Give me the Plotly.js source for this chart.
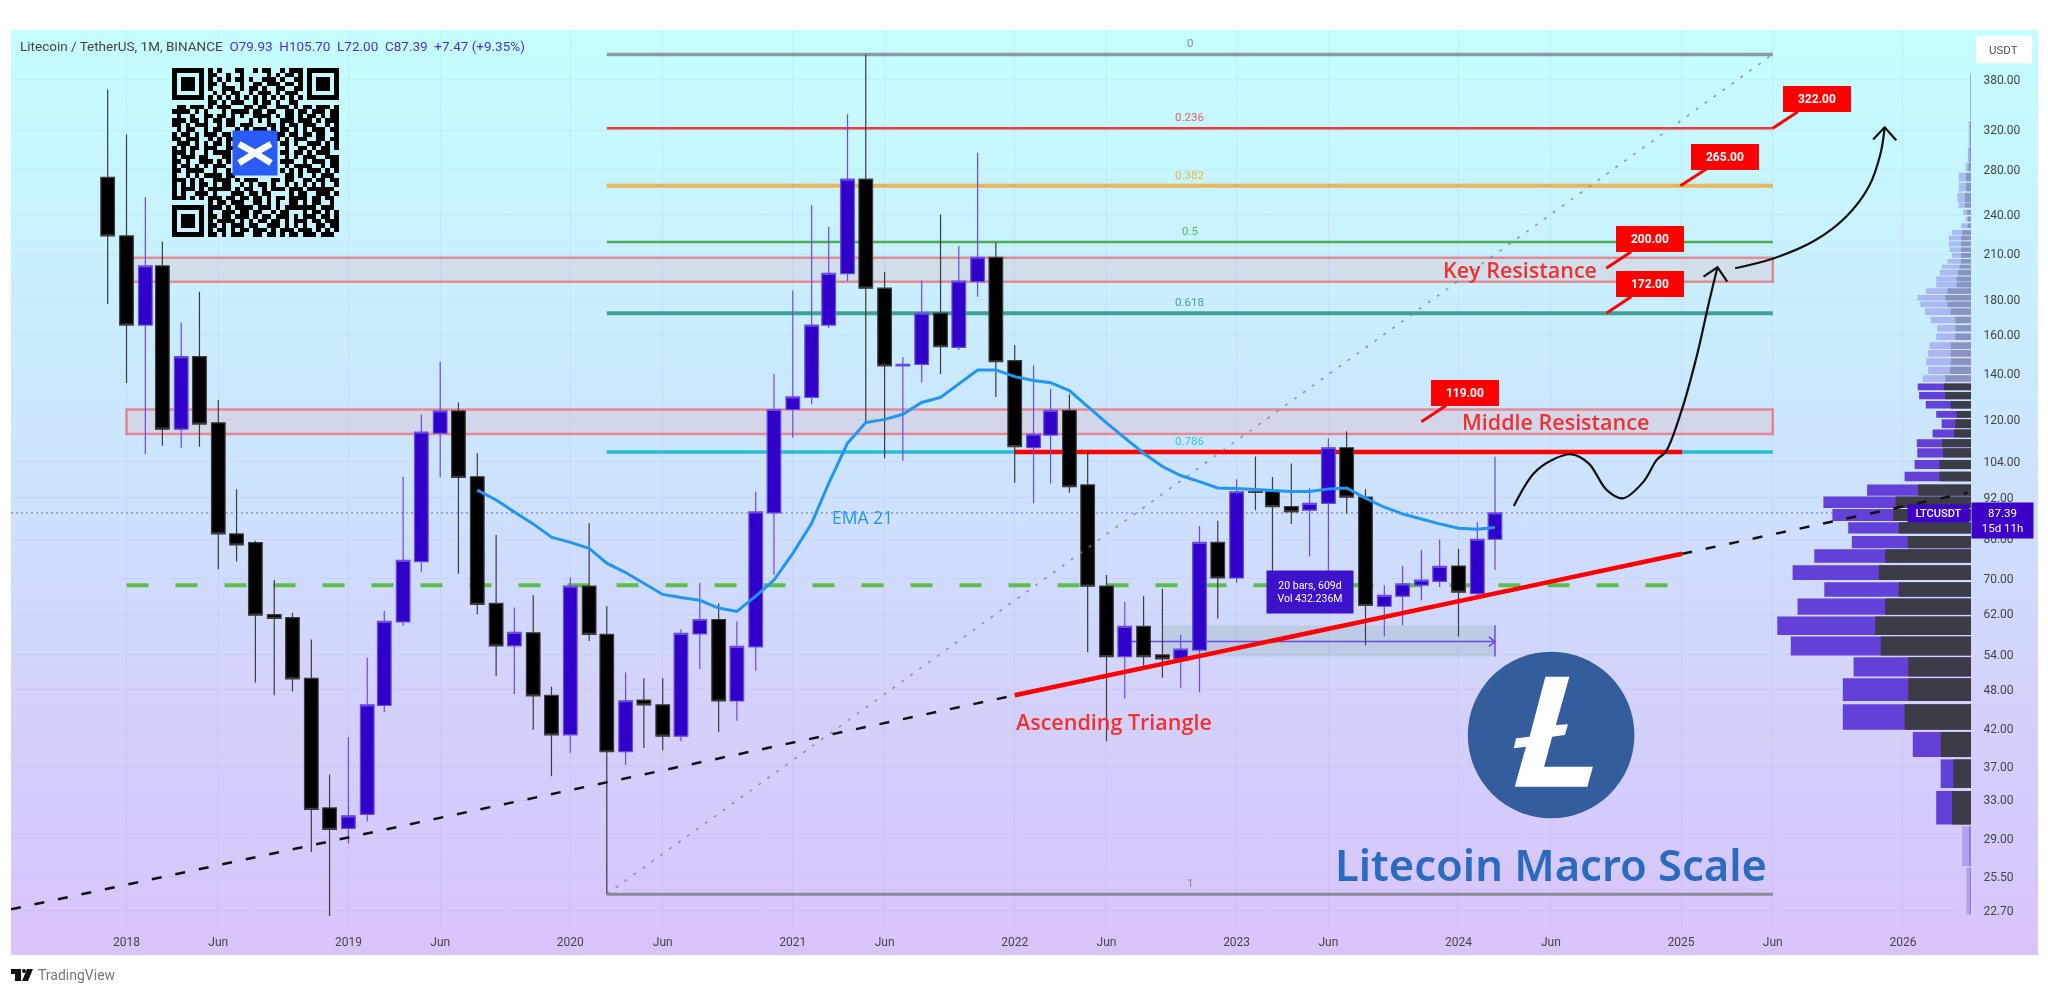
<!DOCTYPE html>
<html><head><meta charset="utf-8">
<script src="https://cdn.plot.ly/plotly-3.0.1.min.js"></script>
<style>
html,body{margin:0;padding:0;background:#fff;width:2048px;height:994px;overflow:hidden}
#bg{position:absolute;left:11px;top:30px;width:2027px;height:925px;background:linear-gradient(180deg,#c4ffff 0%,#c8f2ff 22%,#cde2fd 50%,#d3d2fc 72%,#d9c3fb 100%)}
#chart{position:absolute;left:0;top:0;width:2048px;height:994px;filter:blur(0.6px)}
</style></head><body><div id="bg"></div><div id="chart"></div>
<script>
const months=['2017-12-01',
'2018-01-01','2018-02-01','2018-03-01','2018-04-01','2018-05-01','2018-06-01','2018-07-01','2018-08-01','2018-09-01','2018-10-01','2018-11-01','2018-12-01',
'2019-01-01','2019-02-01','2019-03-01','2019-04-01','2019-05-01','2019-06-01','2019-07-01','2019-08-01','2019-09-01','2019-10-01','2019-11-01','2019-12-01',
'2020-01-01','2020-02-01','2020-03-01','2020-04-01','2020-05-01','2020-06-01','2020-07-01','2020-08-01','2020-09-01','2020-10-01','2020-11-01','2020-12-01',
'2021-01-01','2021-02-01','2021-03-01','2021-04-01','2021-05-01','2021-06-01','2021-07-01','2021-08-01','2021-09-01','2021-10-01','2021-11-01','2021-12-01',
'2022-01-01','2022-02-01','2022-03-01','2022-04-01','2022-05-01','2022-06-01','2022-07-01','2022-08-01','2022-09-01','2022-10-01','2022-11-01','2022-12-01',
'2023-01-01','2023-02-01','2023-03-01','2023-04-01','2023-05-01','2023-06-01','2023-07-01','2023-08-01','2023-09-01','2023-10-01','2023-11-01','2023-12-01',
'2024-01-01','2024-02-01','2024-03-01'];
const open=[272.5,
223.5,165.2,201.9,116.1,148.4,118.6,81.4,79.0,61.9,61.3,49.9,32.15,
30.0,31.45,45.5,60.4,74.1,114.5,123.5,98.8,64.3,55.7,58.2,47.1,
41.2,68.2,57.9,38.9,46.35,45.6,41.0,58.0,60.9,46.2,55.5,87.4,
124.1,129.3,165.2,196.6,270.9,187.2,143.9,144.6,172.0,153.2,191.4,207.9,
146.4,109,113.8,123.7,96.1,68.2,53.7,59.5,54.0,53.3,54.9,79.1,
70.1,93.9,93.9,89.3,88.2,90.3,109,92.2,63.7,65.9,68.4,69.3,
73,66.5,79.93];
const close=[223.5,
165.2,201.9,116.1,148.4,118.1,81.4,78.4,61.8,61.1,49.8,32.0,29.9,
31.3,45.6,60.5,74.4,114.9,123.5,98.6,64.1,55.7,58.3,47.0,41.2,
68.2,57.9,38.9,46.24,45.6,41.0,58.1,60.9,46.2,55.6,87.7,124.1,
129.5,165.2,196.9,270.9,187.2,143.9,144.6,172.0,153.5,191.8,207.9,145.9,
109.4,114.1,123.7,95.5,68.2,53.7,59.5,53.7,53.3,55.1,79.1,70.1,
93.9,93.7,89.3,87.7,90.3,109,92.2,63.9,66.1,68.7,69.6,72.9,
66.8,79.93,87.39];
const high=[367,
315.3,255.1,219.2,166.6,185,128.1,94.7,79.5,69.6,62.3,56.9,36.0,
40.9,53.5,62.7,98.8,122.0,145.9,127.1,107.0,81.1,63.4,66.1,48.5,
70.2,84.4,63.7,50.9,49.9,49.9,58.9,68.9,64.3,60.5,93.9,139.9,
185.7,248.1,230.6,337.5,413,198.0,148.1,192.1,240.4,216.0,296.2,218.4,
154.4,144.1,133,130.7,107.6,70.8,64.6,65.9,67.6,57.8,83.6,85.1,
98.0,105.8,98.7,103.3,95.0,112.6,115.2,94.7,68.4,73.0,77.1,79.9,
77.4,84.7,105.70];
const low=[177.5,
135.8,106.7,109.7,109.0,109.4,72.2,74.1,49.2,47.1,47.7,27.7,22.3,
28.5,30.7,44.5,59.6,71.6,98.6,71.1,62.0,50.3,47.3,41.9,35.8,
38.75,56.6,24.0,37.2,39.4,39.1,40.3,51.5,41.6,43.2,51.2,70.8,
112.8,126.3,163.6,191.8,118.1,105.2,104.3,136,139.9,151.8,181.9,129.5,
96.8,90.3,96.6,93.6,54.5,40.3,46.6,51.9,50.0,48.3,47.6,61.1,
68.9,88.2,71.8,84.2,75.4,71.6,87.2,55.8,57.5,59.7,65.0,68.0,
57.5,65.7,72.00];
const emaMonths=months.slice(20);
const ema21=[94.4,91.3,87.7,84.2,80.5,
79.1,77.5,73.7,71.4,68.8,66.3,65.6,65.0,63.3,62.6,65.9,69.6,
76.2,84.4,96.6,110.7,118.7,120.0,122.1,127.1,129.3,135.3,141.9,141.9,
138.7,136.9,135.9,132.3,125.2,118.6,112.7,107.0,102.3,99.2,97.2,95.1,
94.9,94.6,94.3,94.0,94.0,94.8,95.1,91.9,89.1,87.1,85.6,84.2,
83.0,82.7,83.2];

const fibLabels=['0','0.236','0.382','0.5','0.618','0.786','1'];
const fibLevels=[413.5,322,265,219,172,107.4,24.0];
const fibColors=['#8a9a9e','#f23645','#e8b55c','#4caf50','#3fa394','#28bcd8','#8a8a96'];
const fibWidths=[3.5,2.5,4,2.5,4,3.5,3];
const fibTextColors=['#8a8f92','#e0606a','#e8b04a','#5cb85c','#3fa394','#30c6dc','#8a8a96'];
const fibStart='2020-03-01', fibEnd='2025-06-01', fibLabelDate='2022-10-16';

const keyZone=[191.4,207.6], midZone=[114.2,124.1];
const zoneStart='2018-01-01';
const greenLevel=68.4, greenEnd='2024-12-15';
const lastPrice=87.39;
const redFlat=107.4, redFlatDates=['2022-01-01','2025-01-03'];

const trendRedDates=['2022-01-01','2025-01-03'], trendRed=[47.1,76.1];
const trendDashLDates=['2017-06-25','2022-01-01'], trendDashL=[22.8,47.1];
const trendDashRDates=['2025-01-03','2026-04-17'], trendDashR=[76.1,93.6];
const fibDiagDates=['2020-03-01','2025-06-01'], fibDiag=[24.0,413.5];

const arrowADates=['2024-04-01','2024-05-04','2024-06-03','2024-07-05','2024-08-02','2024-09-01','2024-09-27','2024-10-31','2024-11-22','2024-12-07','2025-01-02','2025-01-28','2025-02-16','2025-03-02'];
const arrowA=[89.5,100,104.6,106.6,103.4,94.4,91.8,97.1,104.6,107.6,123.7,150.1,178.5,201];
const headADates=['2025-02-07','2025-03-02','2025-03-18'], headA=[194.7,201,191.4];
const arrowBDates=['2025-03-31','2025-06-03','2025-08-09','2025-09-30','2025-11-06','2025-11-25','2025-12-02'];
const arrowB=[200.3,207.2,220,238.7,264.2,295,323];
const headBDates=['2025-11-13','2025-12-02','2025-12-21'], headB=[310,323,309];

const rangeStart='2022-09-01', rangeLineStart='2022-07-01', rangeEnd='2024-03-01';
const rangeBand=[53.7,59.7], rangeMid=56.5;
const rangeHeadDates=['2024-02-20','2024-03-01','2024-02-20'], rangeHead=[57.4,56.5,55.6];

const vpHigh=[387,330,301.9,286.4,276.9,267.6,258.7,250.1,244.2,238.7,233.3,228,223.7,219.4,215,211,206.7,202.7,199.3,194.8,191.1,187.2,183,178.9,174.9,170,165.2,160.6,155.8,151.8,147.6,143.5,139.4,135.5,131.7,127.7,123.5,120,116,112.2,108.8,104.6,100.5,96.2,92.4,88.6,84.7,80.8,77.3,73.2,69.1,65.4,61.5,57.5,53.6,49.9,45.7,41.6,37.9,34.05,30.2,26.25];
const vpLow=[332,302.5,286.9,278.3,268.9,259.9,250.5,245.9,240.1,234.7,229.4,224.3,220.2,215.8,211.7,207.5,203.4,200,195.5,191.5,187.7,183.6,179.5,175.5,171,166.2,161.7,157,152.3,148.4,144.2,140,136.3,132.5,128.5,124.5,120.7,116.5,112.9,109.2,105.5,101.4,97.3,92.6,88.9,85,81.5,77.5,73.8,69.6,65.8,61.9,57.8,53.9,50.2,46.2,41.9,38.2,34.4,30.4,26.4,22.4];
const vpTotal=[1,2.3,3.2,5.4,12.2,12.2,13.5,12.2,7.7,5.4,9.9,19,22.1,22.1,21.2,19,23.5,29.3,31.2,34.8,34.8,45.2,53.7,50.6,46.1,40.2,33.9,34.8,41.5,42.9,44.7,42.9,48.3,53.3,51.9,45.2,34.8,29.3,38.4,54.2,53.7,56.4,66.4,103.9,147.6,138.6,122.8,119.2,156.7,178.4,146.7,173.4,193.7,180.2,117.4,128.2,128.2,58.2,30.3,34.8,9,4.5];
const vpDown=[.5,1,1.5,2.5,5,5,6,6,4,3,3.2,8.6,9.9,9.9,9.9,9.9,9.9,11.3,13.1,14.4,14.4,23.5,25.7,23.5,20.3,15.8,15.4,15.8,20.3,20.3,20.3,21.2,25.7,27.1,25.7,20.3,14.4,15.8,16.7,28.9,28,31.6,31.6,52.8,75.4,77.7,72.2,63.2,85.8,92.1,72.2,85.8,95.7,90.3,62.8,62.8,66.4,30.3,17.6,19,2,1];

const yTickVals=[380,320,280,240,210,180,160,140,120,104,92,80,70,62,54,48,42,37,33,29,25.5,22.7];
const yTickText=['380.00','320.00','280.00','240.00','210.00','180.00','160.00','140.00','120.00','104.00','92.00','80.00','70.00','62.00','54.00','48.00','42.00','37.00','33.00','29.00','25.50','22.70'];
const xTickVals=['2018-01-01','2018-06-01','2019-01-01','2019-06-01','2020-01-01','2020-06-01','2021-01-01','2021-06-01','2022-01-01','2022-06-01','2023-01-01','2023-06-01','2024-01-01','2024-06-01','2025-01-01','2025-06-01','2026-01-01'];
const xTickText=['2018','Jun','2019','Jun','2020','Jun','2021','Jun','2022','Jun','2023','Jun','2024','Jun','2025','Jun','2026'];

const callouts=[['322.00','2025-06-01',322,44,-29],['265.00','2024-12-31',265,45,-29],['200.00','2024-08-31',200.3,44,-29],['172.00','2024-08-31',172,44,-29],['119.00','2023-11-01',119,44,-29]];

const qrRows=[
"#######.#.#...##..#.##..#.###.#######",
"#.....#.##..#..#.....#.#.##.#.#.....#",
"#.###.#.#.#.#.##.#..###.#..##.#.###.#",
"#.###.#.##.#...#..##.###.##.#.#.###.#",
"#.###.#.#..###.#.##.#..##..##.#.###.#",
"#.....#..#.#.##..#.###.#.###..#.....#",
"#######.#.#.#.#.#.#.#.#.#.#.#.#######",
"........##.#.###..#.##.#..##.........",
".##.###.#.###...##.##..###.#.##.###.#",
"####.#.#...#.####.##.##..##.##.###.##",
".#..#..##.##.#.#..####.#.##.#.##.#.##",
"###.##.#.##.##...#.#.#..###.###.#.###",
"##.#.###..#.##.###...##.#.##.###..#.#",
".#.##..#.##...#.#.###.#.##.#.#.###.##",
"#.##.#.###.##.#..##.#####.##.##.##..#",
"##.###..#.#.###.#......#.#.###..##.##",
".###.#.#.##.#.#.........##.#..###.#.#",
"#.#.##.###..##...........#..##.#.##.#",
"###.#..#.####...........##.##.#.###..",
"#.###.##...##............#.#.###..###",
"##.#..###.#.#...........###..#.###.##",
"#.##.#.#.###.............#.####..#.##",
"##.####..#..#...........#.#.#.###.#.#",
"#..#.#.####.##...........##.#..#.###.",
"###.#.#..####.#.###...##.##..##.##.##",
"#.#.#.##.#.##..#.#.##.#..#.#.#.#.#..#",
"#.###.#.#####.#.##..#.###.###.######.",
"#.#..###.#...###.##.##....#.##..###.#",
"###.#.#.###.##.##.##.#.##.####.##.##.",
"........#.##.###..##.#.#..##.#.##..#.",
"#######.###.#.####.###.#.#######.###.",
"#.....#.#..###.##.##..#.##...#.##.#.#",
"#.###.#.##.##.###.#.##.###.#.###.##.#",
"#.###.#.#.####.#.#.##.##.#.###.##.###",
"#.###.#.##.#.###.##..###.#.#.#..##.##",
"#.....#.#.##.#.##.###.#.###.###.#.#.#",
"#######.##.#.###..##.##.#.##.###.###."];
const qrMatrix=qrRows.map(r=>r.split('').map(c=>c==='#'?1:0));

const X=p=>(p-11)/1960, Y=p=>1-(p-30)/896, L=v=>Math.log10(v);
const P=pts=>pts.map((q,i)=>(i?'L':'M')+X(q[0])+','+Y(q[1])).join(' ')+' Z';
const pline=pts=>pts.map((q,i)=>(i?'L':'M')+X(q[0])+','+Y(q[1])).join(' ');

const traces=[];
const isLight=vpHigh.map((h,i)=>vpLow[i]>=136||h<=30.3);
const vpCommon={type:'bar',orientation:'h',xaxis:'x',yaxis:'y',hoverinfo:'skip',
  y:vpHigh.map((h,i)=>(h+vpLow[i])/2),width:vpHigh.map((h,i)=>h-vpLow[i])};
traces.push(Object.assign({},vpCommon,{name:'Volume up',x:vpTotal,marker:{line:{width:0},color:isLight.map(f=>f?'rgba(98,64,216,.3)':'#6340d8')}}));
traces.push(Object.assign({},vpCommon,{name:'Volume down',x:vpDown,marker:{line:{width:0},color:isLight.map(f=>f?'rgba(70,70,85,.32)':'#3c3c46')}}));
traces.push({type:'candlestick',name:'LTCUSDT',xaxis:'x2',yaxis:'y',x:months,open,high,low,close,whiskerwidth:0,
  increasing:{line:{color:'#6a4ae6',width:1.2},fillcolor:'#3000c8'},
  decreasing:{line:{color:'#3c3c3c',width:1.2},fillcolor:'#000000'}});
const ln=(name,x,y,color,width,dash,shape)=>({type:'scatter',mode:'lines',name,xaxis:'x2',yaxis:'y',x,y,hoverinfo:'skip',line:{color,width,dash:dash||'solid',shape:shape||'linear',smoothing:1}});
traces.push(ln('Fib diagonal',fibDiagDates,fibDiag,'rgba(130,130,140,.8)',1.6,'3px,8px'));
traces.push(ln('Trend left',trendDashLDates,trendDashL,'#111',2.5,'10px,14px'));
traces.push(ln('Trend right',trendDashRDates,trendDashR,'#111',2.5,'10px,14px'));
traces.push(ln('Ascending Triangle',trendRedDates,trendRed,'#ff0000',4.5));
traces.push(ln('EMA 21',emaMonths,ema21,'#2196f3',3));
traces.push(ln('Path A',arrowADates,arrowA,'#111',2.2,null,'spline'));
traces.push(ln('Head A',headADates,headA,'#111',2.2));
traces.push(ln('Path B',arrowBDates,arrowB,'#111',2.2,null,'spline'));
traces.push(ln('Head B',headBDates,headB,'#111',2.2));
traces.push(ln('Range head',rangeHeadDates,rangeHead,'#6a4ae6',1.5));
traces.push({type:'heatmap',name:'QR',xaxis:'x3',yaxis:'y3',z:qrMatrix,showscale:false,hoverinfo:'skip',zmin:0,zmax:1,
  colorscale:[[0,'rgba(0,0,0,0)'],[1,'#000']]});

const shapes=[];
const zone=(z,x1)=>({type:'rect',xref:'x2',yref:'y',x0:zoneStart,x1,y0:z[0],y1:z[1],layer:'below',fillcolor:'rgba(245,125,115,.15)',line:{color:'rgba(238,100,110,.7)',width:2.5}});
shapes.push(zone(keyZone,fibEnd),zone(midZone,fibEnd));
fibLevels.forEach((v,i)=>shapes.push({type:'line',xref:'x2',yref:'y',x0:fibStart,x1:fibEnd,y0:v,y1:v,layer:'below',line:{color:fibColors[i],width:fibWidths[i]}}));
shapes.push({type:'line',xref:'x2',yref:'y',x0:redFlatDates[0],x1:redFlatDates[1],y0:redFlat,y1:redFlat,layer:'below',line:{color:'#ff0000',width:4.5}});
shapes.push({type:'line',xref:'x2',yref:'y',x0:zoneStart,x1:greenEnd,y0:greenLevel,y1:greenLevel,layer:'below',line:{color:'#5cbf4c',width:4,dash:'22px,27px'}});
shapes.push({type:'line',xref:'x2',yref:'y',x0:'2017-06-25',x1:'2026-04-23',y0:lastPrice,y1:lastPrice,layer:'below',line:{color:'rgba(70,50,220,.7)',width:1,dash:'2px,3px'}});
shapes.push({type:'rect',xref:'x2',yref:'y',x0:rangeStart,x1:rangeEnd,y0:rangeBand[0],y1:rangeBand[1],layer:'below',fillcolor:'rgba(110,160,130,.2)',line:{width:0}});
shapes.push({type:'line',xref:'x2',yref:'y',x0:rangeLineStart,x1:rangeEnd,y0:rangeMid,y1:rangeMid,layer:'below',line:{color:'#6a4ae6',width:1.5}});
shapes.push({type:'line',xref:'x2',yref:'y',x0:rangeEnd,x1:rangeEnd,y0:rangeBand[0],y1:rangeBand[1],layer:'below',line:{color:'#6a4ae6',width:1.5}});
// decorative logos
const above=(path,fill)=>({type:'path',xref:'paper',yref:'paper',path,fillcolor:fill,line:{width:0},layer:'above'});
shapes.push({type:'path',xref:'paper',yref:'paper',layer:'above',fillcolor:'#2a5cf5',line:{color:'#2a5cf5',width:3},
  path:P([[234,132],[276,132],[276,174],[234,174]])});
shapes.push({type:'path',xref:'paper',yref:'paper',layer:'above',line:{color:'#fff',width:6.5},path:pline([[239,144],[255,153],[271,163]])});
shapes.push({type:'path',xref:'paper',yref:'paper',layer:'above',line:{color:'#fff',width:6.5},path:pline([[239,163],[255,153],[271,144]])});
shapes.push({type:'circle',xref:'paper',yref:'paper',layer:'above',x0:X(1467.8),x1:X(1634.4),y0:Y(818.3),y1:Y(651.7),fillcolor:'#345d9d',line:{width:0}});
shapes.push(above(P([[1545.4,676.7],[1569.4,676.7],[1555.8,725],[1568,724.3],[1564.9,735],[1552.2,736.7],[1544.1,766.7],[1592.9,766.7],[1587.4,786.7],[1514.7,786.7],[1526,746.7],[1513.8,748.3],[1516.1,738.3],[1529.6,736.7]]),'#ffffff'));
shapes.push({type:'rect',xref:'paper',yref:'paper',layer:'above',x0:X(1976),x1:X(2032),y0:Y(63.3),y1:Y(35.7),fillcolor:'#ffffff',line:{width:0}});
shapes.push(above(P([[11,969],[21,969],[21,981],[15,981],[15,974],[11,974]]),'#111'));
shapes.push(above(P([[33,969],[28,981],[22,981],[27,969]]),'#111'));
shapes.push({type:'circle',xref:'paper',yref:'paper',layer:'above',x0:X(22),x1:X(26),y0:Y(973),y1:Y(969),fillcolor:'#111',line:{width:0}});

const ann=[];
const txt=(text,px,py,size,color,opt)=>Object.assign({text,xref:'paper',yref:'paper',x:X(px),y:Y(py),xanchor:'center',yanchor:'middle',showarrow:false,font:{size,color,family:'"Open Sans",sans-serif'}},opt||{});
fibLevels.forEach((v,i)=>ann.push({text:fibLabels[i],xref:'x2',yref:'y',x:fibLabelDate,y:L(v),yshift:11,showarrow:false,font:{size:11.5,color:fibTextColors[i],family:'Roboto,sans-serif'}}));
const red={size:21.5,color:'#f23030',family:'"Open Sans",sans-serif',weight:600};
ann.push(txt('Key Resistance',1520,270,21.5,'#f23030',{font:red}));
ann.push(txt('Middle Resistance',1555,421.7,21.5,'#f23030',{font:red}));
ann.push(txt('Ascending Triangle',1114,721,21.5,'#f23030',{font:red}));
ann.push(txt('EMA 21',862,516.7,17.5,'#2196f3',{font:{size:17.5,color:'#2196f3',family:'"Open Sans",sans-serif',weight:500}}));
ann.push(txt('Litecoin Macro Scale',1551,864,43.5,'#2a6bbf',{font:{size:43.5,color:'#2a6bbf',family:'"Noto Sans",sans-serif',weight:600}}));
ann.push(txt('USDT',2003,50,11.5,'#555',{font:{size:11.5,color:'#555',family:'Roboto,sans-serif'}}));
ann.push(txt('TradingView',77,975,14,'#777',{font:{size:14,color:'#777',family:'Roboto,sans-serif'}}));
callouts.forEach(c=>ann.push({text:c[0],xref:'x2',yref:'y',x:c[1],y:L(c[2]),ax:c[3],ay:c[4],showarrow:true,arrowhead:0,arrowwidth:3,arrowcolor:'#ff0000',
  bgcolor:'#ff0000',bordercolor:'#ff0000',borderwidth:1,borderpad:4,width:58,height:16,font:{size:12,color:'#fff',family:'Roboto,sans-serif',weight:700}}));
ann.push(txt('20 bars, 609d<br>Vol 432.236M',1310,592,10.5,'#fff',{bgcolor:'#3d13c9',borderpad:6,width:74,height:30,font:{size:10.5,color:'#fff',family:'Roboto,sans-serif'}}));
ann.push(txt('LTCUSDT',1938.5,513.3,11,'#fff',{bgcolor:'#3d00c8',borderpad:2,width:57,height:13,font:{size:11,color:'#fff',family:'Roboto,sans-serif',weight:500}}));
ann.push(txt('87.39<br>15d 11h',2002.5,520.5,11.5,'#fff',{bgcolor:'#3d00c8',borderpad:2,width:57,height:31,font:{size:11.5,color:'#fff',family:'Roboto,sans-serif'}}));

const hid={visible:false,fixedrange:true};
const sp='\u00A0\u00A0';
const layout={
  width:2048,height:994,margin:{l:11,r:77,t:30,b:68,pad:0},autosize:false,
  paper_bgcolor:'rgba(0,0,0,0)',plot_bgcolor:'rgba(0,0,0,0)',showlegend:false,hovermode:false,dragmode:false,
  barmode:'overlay',boxgap:0.2,boxgroupgap:0,
  title:{text:'<span style="color:#444">Litecoin / TetherUS, 1M, BINANCE</span>'+sp+'<span style="color:#4a32d0">O79.93'+sp+'H105.70'+sp+'L72.00'+sp+'C87.39'+sp+'+7.47 (+9.35%)</span>',
    x:20/2048,xref:'container',xanchor:'left',y:1-46.7/994,yref:'container',yanchor:'middle',font:{size:13.5,family:'Roboto,sans-serif'}},
  xaxis:Object.assign({range:[1960,0],domain:[0,1]},hid),
  xaxis2:{type:'date',overlaying:'x',anchor:'y',side:'bottom',range:['2017-06-25','2026-04-23'],tickmode:'array',tickvals:xTickVals,ticktext:xTickText,
    ticks:'outside',ticklen:5,tickcolor:'rgba(0,0,0,0)',tickfont:{size:12,color:'#444',family:'Roboto,sans-serif'},
    showgrid:true,gridcolor:'rgba(90,90,210,.07)',gridwidth:1,zeroline:false,showline:false,rangeslider:{visible:false}},
  yaxis:{type:'log',range:[1.3334,2.6524],side:'right',anchor:'x',tickmode:'array',tickvals:yTickVals,ticktext:yTickText,
    ticks:'outside',ticklen:9,tickcolor:'rgba(0,0,0,0)',tickfont:{size:12,color:'#444',family:'Roboto,sans-serif'},
    showgrid:true,gridcolor:'rgba(90,90,210,.06)',gridwidth:1,zeroline:false,showline:false},
  xaxis3:Object.assign({domain:[X(172),X(339)],anchor:'y3',range:[-.5,36.5]},hid),
  yaxis3:Object.assign({domain:[Y(237),Y(68)],anchor:'x3',range:[36.5,-.5]},hid),
  shapes,annotations:ann
};
Plotly.newPlot('chart',traces,layout,{staticPlot:true,displayModeBar:false});
</script></body></html>
